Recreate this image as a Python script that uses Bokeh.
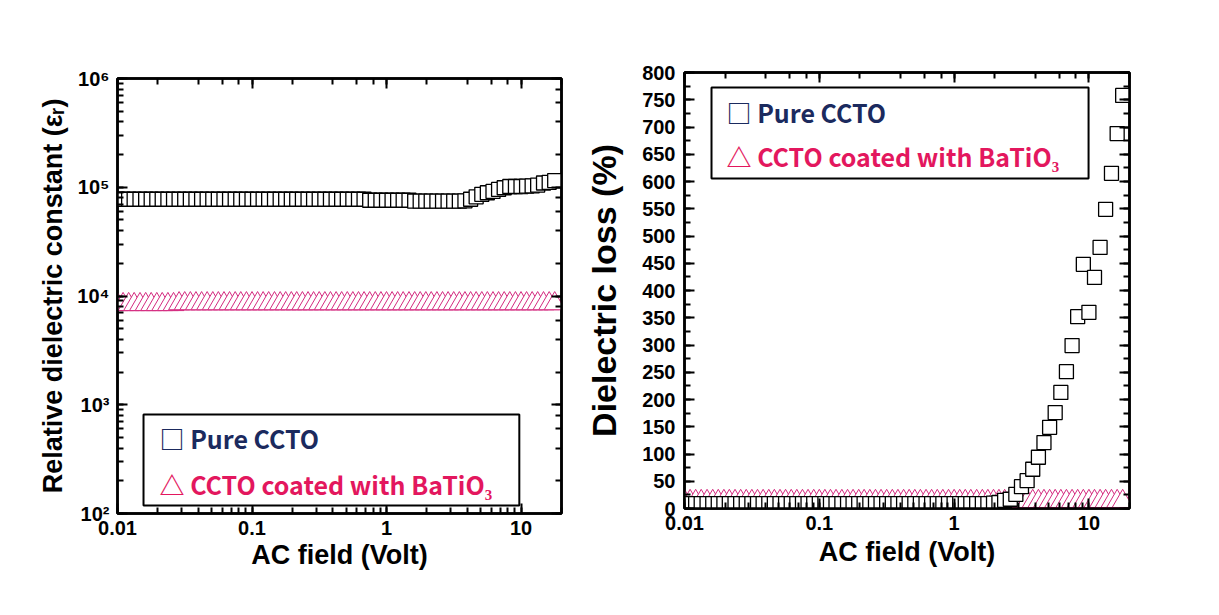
import math

from bokeh.embed import file_html
from bokeh.layouts import column, row
from bokeh.models import (BoxAnnotation, ColumnDataSource, CustomJSTickFormatter,
                          Label, LinearAxis, LogAxis, LogTicker, Range1d,
                          SingleIntervalTicker)
from bokeh.plotting import figure
from bokeh.resources import INLINE

# ---------------------------------------------------------------------------
# Measured data: AC field sweep (V) and the two samples
# ---------------------------------------------------------------------------
ac_field = [
    0.0100, 0.0110, 0.0121, 0.0133, 0.0147, 0.0162, 0.0178, 0.0196, 0.0215, 0.0237,
    0.0261, 0.0287, 0.0316, 0.0348, 0.0383, 0.0422, 0.0464, 0.0511, 0.0562, 0.0619,
    0.0681, 0.0750, 0.0825, 0.0909,
    0.100, 0.110, 0.121, 0.133, 0.147, 0.162, 0.178, 0.196, 0.215, 0.237,
    0.261, 0.287, 0.316, 0.348, 0.383, 0.422, 0.464, 0.511, 0.562, 0.619,
    0.681, 0.750, 0.825, 0.909,
    1.00, 1.10, 1.21, 1.33, 1.47, 1.62, 1.78, 1.96, 2.15, 2.37,
    2.61, 2.87, 3.16, 3.48, 3.83, 4.22, 4.64, 5.11, 5.62, 6.19,
    6.81, 7.50, 8.25, 9.09,
    10.0, 11.0, 12.1, 13.3, 14.7, 16.2, 17.8,
]

# relative dielectric constant, pure CCTO
eps_pure = [
    77600, 77600, 77600, 77600, 77600, 77600, 77600, 77600, 77600, 77600,
    77600, 77600, 77600, 77600, 77600, 77600, 77600, 77600, 77600, 77600,
    77600, 77600, 77600, 77600,
    77600, 77600, 77600, 77600, 77600, 77600, 77600, 77600, 77600, 77600,
    77600, 77600, 77600, 77600, 77600, 77600, 77600, 77600, 77600, 77600,
    77600, 75900, 75900, 75900,
    75900, 75900, 75900, 75900, 75900, 74500, 74500, 74500, 74500, 74500,
    74500, 74500, 74500, 74500, 75000, 77600, 81700, 86100, 89000, 91600,
    95500, 98900, 101600, 101600,
    101600, 102300, 102800, 104700, 109400, 110900, 115300,
]

# relative dielectric constant, CCTO coated with BaTiO3
eps_coated = [
    8350, 8350, 8350, 8350, 8350, 8350, 8350, 8350, 8350, 8350,
    8350, 8500, 8500, 8500, 8500, 8500, 8500, 8500, 8500, 8500,
    8500, 8500, 8500, 8500,
    8500, 8500, 8500, 8500, 8500, 8500, 8500, 8500, 8500, 8500,
    8500, 8500, 8500, 8500, 8500, 8500, 8500, 8500, 8500, 8500,
    8500, 8500, 8500, 8500,
    8500, 8500, 8500, 8500, 8500, 8500, 8500, 8500, 8500, 8500,
    8500, 8500, 8500, 8500, 8500, 8500, 8500, 8500, 8500, 8500,
    8500, 8500, 8500, 8500,
    8500, 8500, 8500, 8500, 8500, 8500, 8500,
]

# dielectric loss (%), pure CCTO
loss_pure = [
    9, 9, 9, 9, 9, 9, 9, 9, 9, 9,
    9, 9, 9, 9, 9, 9, 9, 9, 9, 9,
    9, 9, 9, 9,
    9, 9, 9, 9, 9, 9, 9, 9, 9, 9,
    9, 9, 9, 9, 9, 9, 9, 9, 9, 9,
    9, 9, 9, 9,
    9, 9, 9, 9, 9, 9, 9, 10, 11, 15,
    17, 26, 40, 51, 72, 94, 121, 149, 176, 213,
    251, 299, 352, 448,
    360, 424, 479, 549, 615, 688, 758,
]

# dielectric loss (%), CCTO coated with BaTiO3
loss_coated = [
    13, 13, 13, 13, 13, 13, 13, 13, 13, 13,
    13, 13, 13, 13, 13, 13, 13, 13, 13, 13,
    13, 13, 13, 13,
    13, 13, 13, 13, 13, 13, 13, 13, 13, 13,
    13, 13, 13, 13, 13, 13, 13, 13, 13, 13,
    13, 13, 13, 13,
    13, 13, 13, 13, 13, 13, 13, 13, 13, 13,
    13, 13, 13, 13, 13, 13, 13, 13, 13, 13,
    13, 13, 13, 13,
    13, 13, 13, 13, 13, 13, 13,
]

legend_pure = "\u25a1 Pure CCTO"
legend_coated = "\u25b3 CCTO coated with BaTiO\u2083"

# ---------------------------------------------------------------------------
# Styling
# ---------------------------------------------------------------------------
AXIS_FONT = "Liberation Sans"
LEGEND_FONT = "Noto Sans CJK KR"
NAVY = "#1b2a5e"
PINK_TEXT = "#e3175e"
PINK_MARK = "#d42a7f"
FIELD_RANGE = (0.01, 20.0)

src = ColumnDataSource(dict(x=ac_field, eps_pure=eps_pure, eps_coated=eps_coated,
                            loss_pure=loss_pure, loss_coated=loss_coated))


def x_formatter():
    return CustomJSTickFormatter(code="""
        const e = Math.round(Math.log10(tick));
        if (e >= 0) return String(Math.round(Math.pow(10, e)));
        return "0." + "0".repeat(-e - 1) + "1";
    """)


def pow10_formatter():
    return CustomJSTickFormatter(code="""
        const sup = {"2": "\u00b2", "3": "\u00b3", "4": "\u2074", "5": "\u2075", "6": "\u2076"};
        const e = Math.round(Math.log10(tick));
        return "10" + (sup[String(e)] || "");
    """)


def blank_formatter():
    return CustomJSTickFormatter(code='return "";')


def style_axis(ax, labelled=True):
    ax.axis_line_width = 2.5
    ax.axis_line_color = "black"
    ax.major_tick_line_width = 2
    ax.minor_tick_line_width = 2
    ax.major_tick_in = 10
    ax.major_tick_out = 0
    ax.minor_tick_in = 6
    ax.minor_tick_out = 0
    ax.major_label_text_font = AXIS_FONT
    ax.major_label_text_font_style = "bold"
    ax.major_label_text_font_size = "20px" if labelled else "2px"
    ax.major_label_text_color = "black"
    ax.axis_label_text_font = AXIS_FONT
    ax.axis_label_text_font_style = "bold"
    ax.axis_label_text_color = "black"
    if not labelled:
        ax.formatter = blank_formatter()
        ax.major_label_standoff = 0


def base_figure(width, y_axis_type, y_range, left, right, top, bottom):
    p = figure(width=width, height=615, x_axis_type="log", y_axis_type=y_axis_type,
               x_range=Range1d(*FIELD_RANGE), y_range=y_range,
               output_backend="svg", toolbar_location=None,
               min_border_left=left, min_border_right=right,
               min_border_top=top, min_border_bottom=bottom)
    p.xgrid.visible = False
    p.ygrid.visible = False
    p.outline_line_color = "black"
    p.outline_line_width = 2.5
    p.background_fill_color = "white"
    p.border_fill_color = "white"
    return p


def log_pos(lo, hi, f):
    return 10 ** (math.log10(lo) + f * (math.log10(hi) - math.log10(lo)))


def lin_pos(lo, hi, f):
    return lo + f * (hi - lo)


def add_legend(p, xs, ys, text_x, text_ys):
    p.add_layout(BoxAnnotation(left=xs[0], right=xs[1], bottom=ys[0], top=ys[1],
                               fill_color="white", fill_alpha=1.0,
                               line_color="black", line_alpha=1.0, line_width=2))
    for text, y, color in ((legend_pure, text_ys[0], NAVY),
                           (legend_coated, text_ys[1], PINK_TEXT)):
        p.add_layout(Label(x=text_x, y=y, text=text, text_font=LEGEND_FONT,
                           text_font_style="bold", text_font_size="25px",
                           text_color=color, text_align="left",
                           text_baseline="middle"))


def draw_series(p, y_coated, y_pure):
    p.scatter("x", y_coated, source=src, marker="triangle", size=21,
              line_color=PINK_MARK, line_width=1, fill_color="white")
    p.scatter("x", y_pure, source=src, marker="square", size=14,
              line_color="black", line_width=1.3, fill_color="white")


# ---------------------------------------------------------------------------
# Left: relative dielectric constant (log-log)
# ---------------------------------------------------------------------------
EPS_RANGE = (1e2, 1e6)
p1 = base_figure(575, "log", Range1d(*EPS_RANGE), left=117, right=14, top=78, bottom=102)
draw_series(p1, "eps_coated", "eps_pure")

style_axis(p1.xaxis[0])
p1.xaxis[0].formatter = x_formatter()
p1.xaxis[0].major_label_standoff = 7
p1.xaxis[0].axis_label = "AC field (Volt)"
p1.xaxis[0].axis_label_text_font_size = "27px"
p1.xaxis[0].axis_label_standoff = 2

style_axis(p1.yaxis[0])
p1.yaxis[0].formatter = pow10_formatter()
p1.yaxis[0].major_label_standoff = 8
p1.yaxis[0].axis_label = "Relative dielectric constant (\u03b5\u1d63)"
p1.yaxis[0].axis_label_text_font_size = "27px"
p1.yaxis[0].axis_label_standoff = 6

top1 = LogAxis(ticker=LogTicker())
style_axis(top1, labelled=False)
p1.add_layout(top1, "above")
right1 = LogAxis(ticker=LogTicker())
style_axis(right1, labelled=False)
p1.add_layout(right1, "right")

add_legend(p1,
           xs=(log_pos(*FIELD_RANGE, 0.0586), log_pos(*FIELD_RANGE, 0.905)),
           ys=(log_pos(*EPS_RANGE, 0.0184), log_pos(*EPS_RANGE, 0.2276)),
           text_x=log_pos(*FIELD_RANGE, 0.0946),
           text_ys=(log_pos(*EPS_RANGE, 0.1736), log_pos(*EPS_RANGE, 0.0678)))

# ---------------------------------------------------------------------------
# Right: dielectric loss (log x, linear y)
# ---------------------------------------------------------------------------
LOSS_RANGE = (0, 800)
p2 = base_figure(644, "linear", Range1d(*LOSS_RANGE), left=109, right=90, top=72, bottom=107)
draw_series(p2, "loss_coated", "loss_pure")

style_axis(p2.xaxis[0])
p2.xaxis[0].formatter = x_formatter()
p2.xaxis[0].major_label_standoff = 7
p2.xaxis[0].axis_label = "AC field (Volt)"
p2.xaxis[0].axis_label_text_font_size = "27px"
p2.xaxis[0].axis_label_standoff = 4

style_axis(p2.yaxis[0])
p2.yaxis[0].ticker = SingleIntervalTicker(interval=50, num_minor_ticks=2)
p2.yaxis[0].major_label_standoff = 9
p2.yaxis[0].axis_label = "Dielectric loss (%)"
p2.yaxis[0].axis_label_text_font_size = "34px"
p2.yaxis[0].axis_label_standoff = 16

top2 = LogAxis(ticker=LogTicker())
style_axis(top2, labelled=False)
p2.add_layout(top2, "above")
right2 = LinearAxis(ticker=SingleIntervalTicker(interval=50, num_minor_ticks=2))
style_axis(right2, labelled=False)
p2.add_layout(right2, "right")

add_legend(p2,
           xs=(log_pos(*FIELD_RANGE, 0.0607), log_pos(*FIELD_RANGE, 0.908)),
           ys=(605.7, 772.5),
           text_x=log_pos(*FIELD_RANGE, 0.0944),
           text_ys=(lin_pos(*LOSS_RANGE, 0.909), lin_pos(*LOSS_RANGE, 0.809)))

# each panel sits in its own column so the two frames keep their own borders
layout = row(column(p1), column(p2))

with open("out.html", "w") as f:
    f.write(file_html(layout, INLINE))
